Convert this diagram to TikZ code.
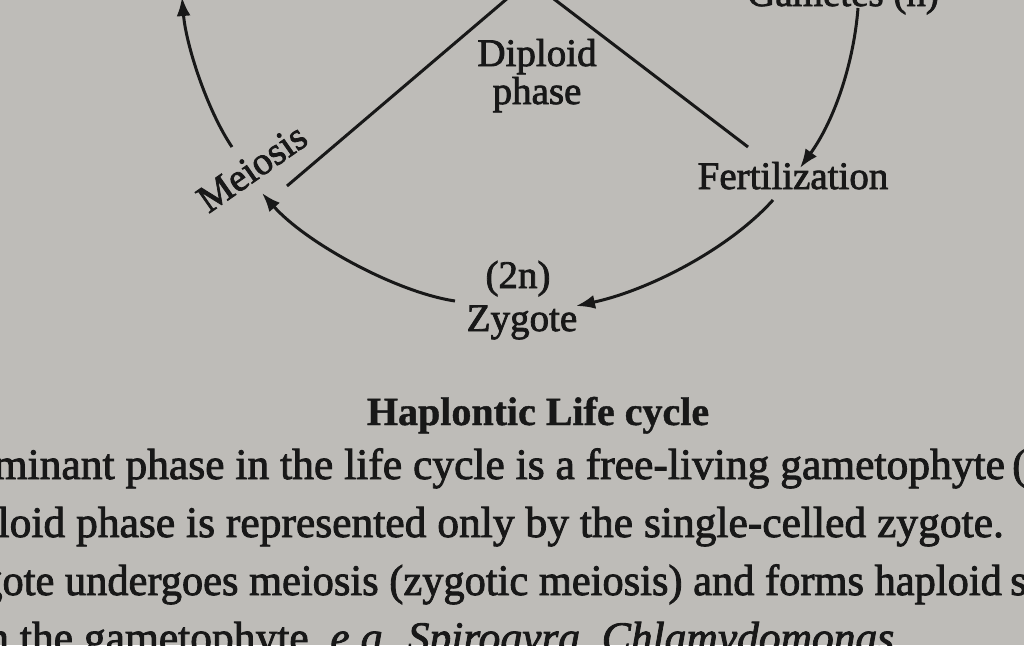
\documentclass[tikz,border=0pt]{standalone}
\usepackage{fontspec}
\setmainfont{Liberation Serif}
\newfontfamily\inkfont{Liberation Serif}[FakeBold=2]
\newfontfamily\headfont{Liberation Serif Bold}[FakeBold=1]
\usetikzlibrary{arrows.meta}
\definecolor{paper}{RGB}{190,188,184}
\definecolor{ink}{RGB}{24,24,24}
\begin{document}
\begin{tikzpicture}[x=1pt,y=-1pt,
  lbl/.style={font=\inkfont\fontsize{39}{44}\selectfont, text=ink, inner sep=0pt},
  head/.style={font=\headfont\fontsize{40}{46}\selectfont, text=ink, inner sep=0pt, anchor=base},
  body/.style={font=\inkfont\fontsize{43.5}{50}\selectfont, text=ink, inner sep=0pt, anchor=base east},
  tail/.style={font=\inkfont\fontsize{43.5}{50}\selectfont, text=ink, inner sep=0pt, anchor=base west},
  conn/.style={draw=ink, line width=3pt},
  arr/.style={conn, -{Latex[length=19pt,width=14pt]}}]
\useasboundingbox (0,0) rectangle (1024,645);
\clip (0,0) rectangle (1024,645);
\fill[paper] (0,0) rectangle (1024,645);

% labels
\node[lbl, anchor=base] (gam) at (843,6) {Gametes (n)};
\node[lbl, anchor=base] (dip) at (537,66) {Diploid};
\node[lbl, anchor=base] (pha) at (537,104) {phase};
\node[lbl, rotate=35] (mei) at (252,168) {Meiosis};
\node[lbl, anchor=base] (fer) at (793,189) {Fertilization};
\node[lbl, anchor=base] (two) at (518,288) {(2n)};
\node[lbl, anchor=base] (zyg) at (522,331) {Zygote};

% connector end points
\coordinate (apex) at (529,-20);
\coordinate (meiR) at (287,186);
\coordinate (ferL) at (748,147);
\coordinate (meiT) at (232,147);
\coordinate (topL) at (182,-3);
\coordinate (gamB) at (858,8);
\coordinate (ferT) at (800,168);
\coordinate (ferB) at (773,200);
\coordinate (zygR) at (576,306);
\coordinate (zygL) at (455,301);
\coordinate (meiB) at (262,193);

% diploid phase wedge
\draw[conn] (meiR) -- (apex) -- (ferL);

% cycle arrows
\draw[arr] (meiT) .. controls (207,110) and (186,45) .. (topL);
\draw[arr] (gamB) .. controls (854,60) and (836,118) .. (ferT);
\draw[arr] (ferB) .. controls (730,248) and (650,290) .. (zygR);
\draw[arr] (zygL) .. controls (395,292) and (305,242) .. (meiB);

% caption and body text
\node[head] (cap) at (538,425) {Haplontic Life cycle};
\node[body] (l1) at (1005,479) {minant phase in the life cycle is a free-living gametophyte};
\node[tail] (l1t) at (1012,479) {(};
\node[body] (l2) at (1004,537) {ploid phase is represented only by the single-celled zygote.};
\node[body] (l3) at (1002,595) {\scalebox{0.975}[1]{gote undergoes meiosis (zygotic meiosis) and forms haploid}};
\node[tail] (l3t) at (1010,595) {s};
\node[tail] (l4) at (-25,652) {in the gametophyte, \textit{e.g. Spirogyra, Chlamydomonas}};
\end{tikzpicture}
\end{document}
